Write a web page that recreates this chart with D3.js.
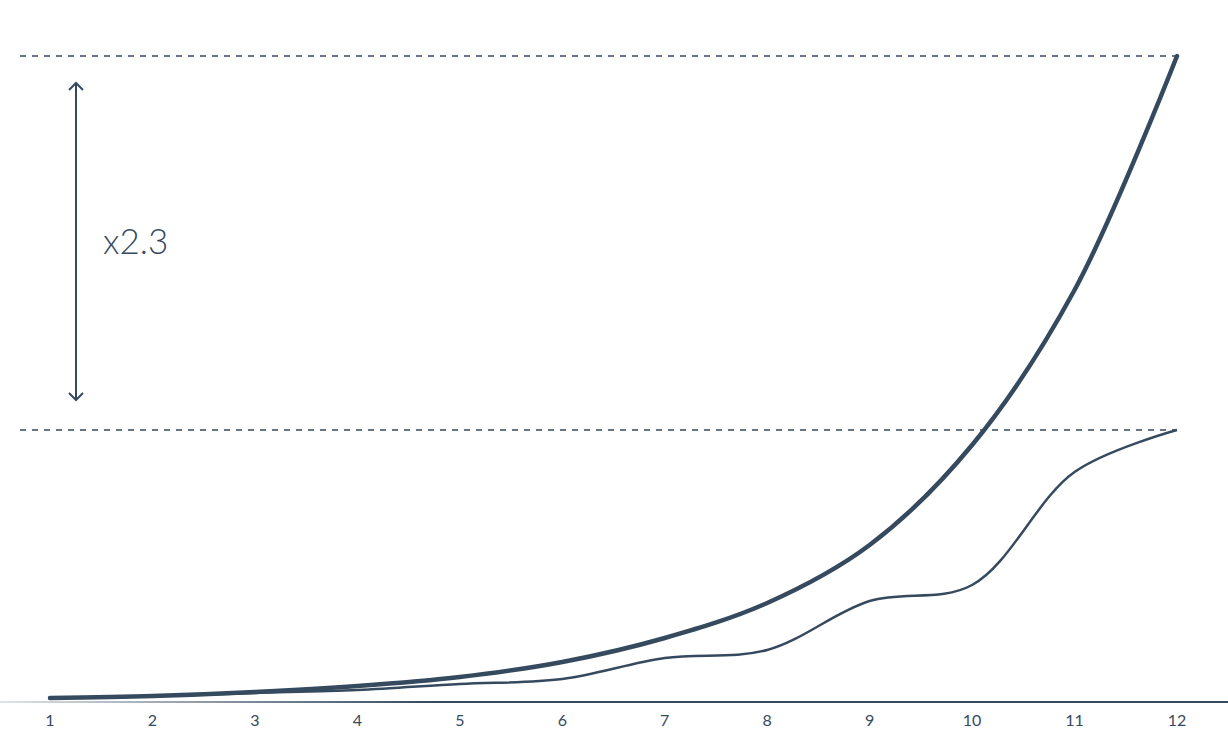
<!DOCTYPE html>
<html><head><meta charset="utf-8">
<script src="https://cdn.jsdelivr.net/npm/d3@7"></script>
<style>body{margin:0;background:#fff}</style></head>
<body><div id="chart"></div>
<script>
const months = [1,2,3,4,5,6,7,8,9,10,11,12];
const fastSeries = [4,6,10,16,25,40,64,99,157,257,412,646];
const slowSeries = [4,6,9,12,18,23,44,52,101,117,230,272];
const refLevels = [646,272];
const ratioLabel = "x2.3";

const W = 1228, H = 734, color = "#364a5f";
const svg = d3.select("#chart").append("svg").attr("width", W).attr("height", H);

const x = d3.scaleLinear().domain([1,12]).range([50,1177]);
const y = d3.scaleLinear().domain([0,646]).range([702,56]);

// baseline with fade on the left
const grad = svg.append("defs").append("linearGradient").attr("id","fade");
grad.append("stop").attr("offset","0%").attr("stop-color",color).attr("stop-opacity",0.15);
grad.append("stop").attr("offset","35%").attr("stop-color",color).attr("stop-opacity",1);
svg.append("rect").attr("x",0).attr("y",701).attr("width",W).attr("height",2).attr("fill","url(#fade)");

// dashed reference lines
svg.selectAll(".ref").data(refLevels).enter().append("line")
  .attr("x1",20).attr("x2",x(12))
  .attr("y1",d=>y(d)).attr("y2",d=>y(d))
  .attr("stroke",color).attr("stroke-width",1.5).attr("stroke-dasharray","6,6");

// ticks
svg.selectAll(".tick").data(months).enter().append("text")
  .attr("x",d=>x(d)).attr("y",726).attr("text-anchor","middle")
  .attr("font-family","Lato, sans-serif").attr("font-size",16).attr("fill",color)
  .text(d=>d);

const line = d3.line().x((d,i)=>x(months[i])).y(d=>y(d)).curve(d3.curveCatmullRom.alpha(0.5));
svg.append("path").attr("d",line(slowSeries)).attr("fill","none")
  .attr("stroke",color).attr("stroke-width",2.5);
svg.append("path").attr("d",line(fastSeries)).attr("fill","none")
  .attr("stroke",color).attr("stroke-width",4.5).attr("stroke-linecap","round");

// arrow
const ax = 76, ay1 = y(refLevels[0]) + 27, ay2 = y(refLevels[1]) - 30;
svg.append("line").attr("x1",ax).attr("x2",ax).attr("y1",ay1).attr("y2",ay2)
  .attr("stroke",color).attr("stroke-width",2);
svg.append("path").attr("d",`M${ax-7},${ay1+7}L${ax},${ay1}L${ax+7},${ay1+7}M${ax-7},${ay2-7}L${ax},${ay2}L${ax+7},${ay2-7}`)
  .attr("fill","none").attr("stroke",color).attr("stroke-width",2);
svg.append("text").attr("x",103).attr("y",254)
  .attr("font-family","Lato, sans-serif").attr("font-weight",300).attr("font-size",35)
  .attr("fill",color).text(ratioLabel);
</script></body></html>
